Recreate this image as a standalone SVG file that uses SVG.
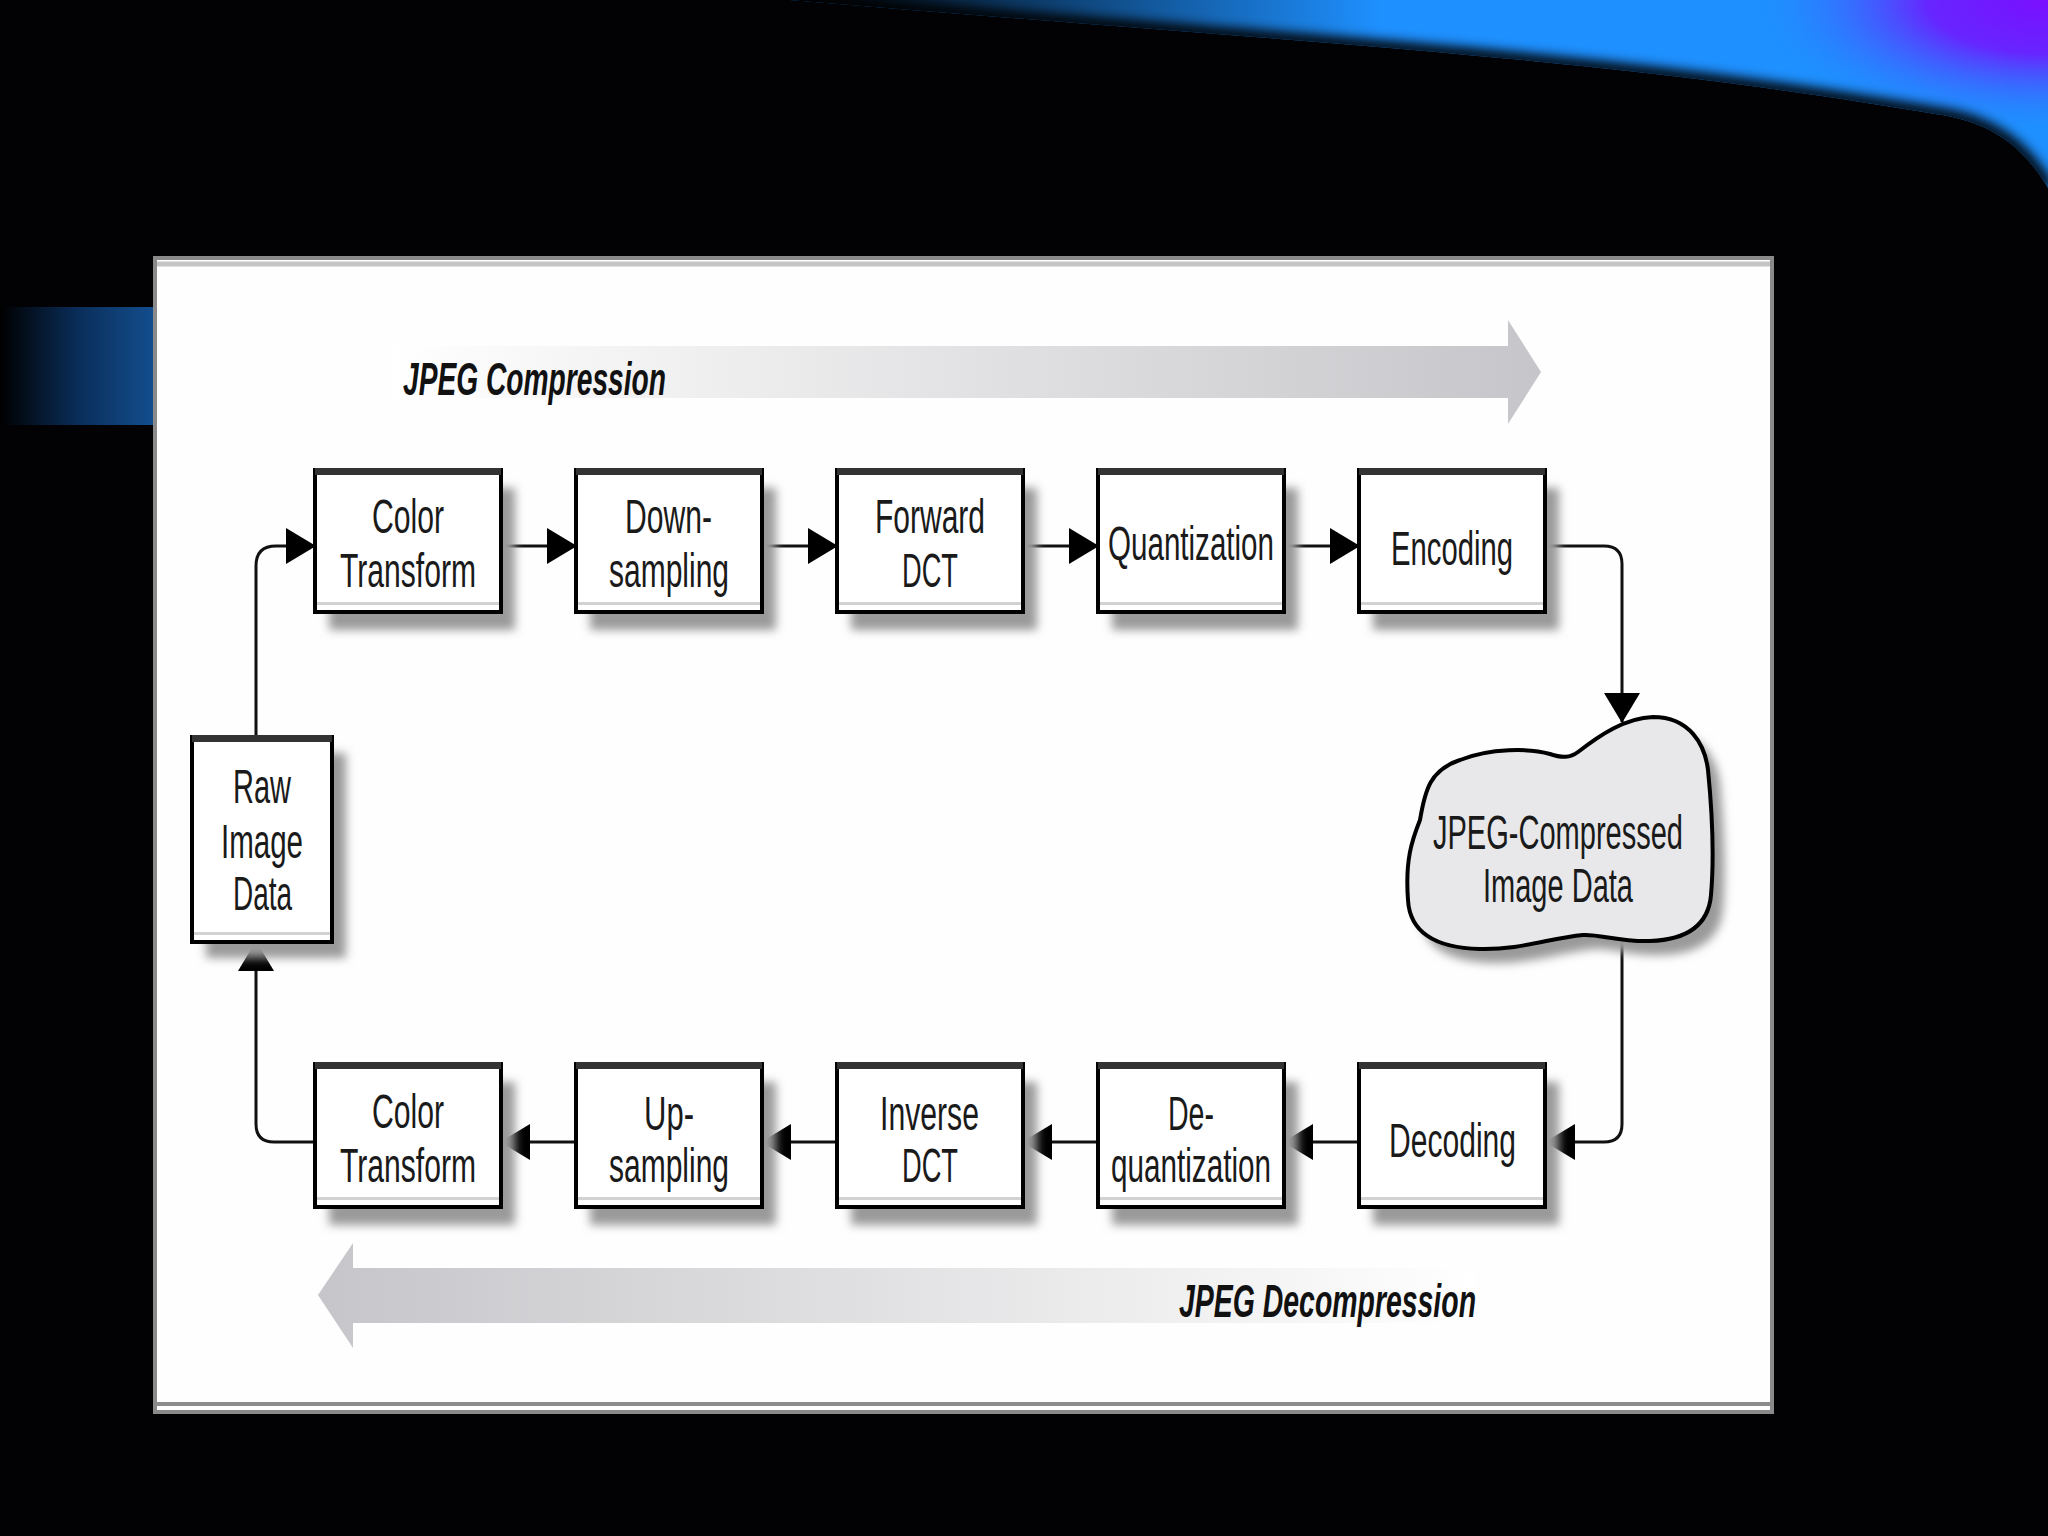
<svg xmlns="http://www.w3.org/2000/svg" width="2048" height="1536" viewBox="0 0 2048 1536">
<style>
.box{fill:#ffffff;stroke:#000;stroke-width:4}
.band{fill:#333}
.inner{fill:#d2d2d2}
.sh{fill:#9a9a9a;filter:url(#blur)}
.lbl{font-family:"Liberation Sans Narrow","Liberation Sans",Arial,sans-serif;font-size:49px;fill:#1a1a1a}
.ttl{font-family:"Liberation Sans Narrow","Liberation Sans",Arial,sans-serif;font-size:46px;font-weight:bold;font-style:italic;fill:#111}
.con{fill:none;stroke:#111;stroke-width:3;marker-end:url(#ah)}
</style>
<defs>
<filter id="blur" x="-20%" y="-20%" width="140%" height="140%"><feGaussianBlur stdDeviation="5"/></filter>
<filter id="blur2" x="-20%" y="-50%" width="140%" height="200%"><feGaussianBlur stdDeviation="6"/></filter>
<marker id="ah" markerUnits="userSpaceOnUse" markerWidth="30" markerHeight="36" viewBox="0 0 30 36" refX="29" refY="18" orient="auto">
<path d="M0,0 L30,18 L0,36 Z" fill="#000"/>
</marker>
<linearGradient id="barG" x1="0" y1="0" x2="1" y2="0">
<stop offset="0" stop-color="#000"/>
<stop offset="0.5" stop-color="#0a2d58"/>
<stop offset="1" stop-color="#134e8e"/>
</linearGradient>
<linearGradient id="compG" gradientUnits="userSpaceOnUse" x1="392" y1="0" x2="1541" y2="0">
<stop offset="0" stop-color="#ffffff"/>
<stop offset="0.15" stop-color="#f6f6f6"/>
<stop offset="0.5" stop-color="#e2e2e4"/>
<stop offset="1" stop-color="#c6c6ca"/>
</linearGradient>
<linearGradient id="decG" gradientUnits="userSpaceOnUse" x1="318" y1="0" x2="1476" y2="0">
<stop offset="0" stop-color="#c6c6ca"/>
<stop offset="0.5" stop-color="#e2e2e4"/>
<stop offset="0.85" stop-color="#f6f6f6"/>
<stop offset="1" stop-color="#ffffff"/>
</linearGradient>
<radialGradient id="purpG" gradientUnits="userSpaceOnUse" cx="2048" cy="0" r="300" gradientTransform="translate(2048 0) scale(1 0.45) translate(-2048 0)">
<stop offset="0" stop-color="#7a0fff" stop-opacity="1"/>
<stop offset="0.4" stop-color="#7412ff" stop-opacity="0.85"/>
<stop offset="1" stop-color="#1e90ff" stop-opacity="0"/>
</radialGradient>
<linearGradient id="darkG" gradientUnits="userSpaceOnUse" x1="790" y1="0" x2="1380" y2="0">
<stop offset="0" stop-color="#000" stop-opacity="1"/>
<stop offset="1" stop-color="#000" stop-opacity="0"/>
</linearGradient>
<clipPath id="swClip">
<path d="M790,0 L2048,0 L2048,188 C2025,150 1995,122 1935,114 C1850,100 1750,84 1600,68 C1400,46 1100,26 790,0 Z"/>
</clipPath>
</defs>

<rect x="0" y="0" width="2048" height="1536" fill="#020204"/>

<g id="swoosh" clip-path="url(#swClip)">
<rect x="780" y="0" width="1268" height="195" fill="#1e90ff"/>
<rect x="1600" y="0" width="448" height="195" fill="url(#purpG)"/>
<rect x="780" y="0" width="700" height="80" fill="url(#darkG)"/>
<path d="M2048,188 C2025,150 1995,122 1935,114 C1850,100 1750,84 1600,68 C1400,46 1100,26 790,0" fill="none" stroke="#000" stroke-width="14" filter="url(#blur2)"/>
</g>

<rect id="left-bar" x="0" y="307" width="154" height="118" fill="url(#barG)"/>

<g id="panel">
<rect x="155" y="258" width="1617" height="1154" fill="#fefefe" stroke="#8a8a8a" stroke-width="4"/>
<line x1="157" y1="264" x2="1770" y2="264" stroke="#c4c4c4" stroke-width="5"/>
<line x1="157" y1="1404" x2="1770" y2="1404" stroke="#8c8c8c" stroke-width="4"/>
</g>

<g id="compression-arrow">
<path d="M392,346 L1508,346 L1508,320 L1541,372 L1508,424 L1508,398 L392,398 Z" fill="url(#compG)"/>
<text class="ttl" x="403" y="395" textLength="263" lengthAdjust="spacingAndGlyphs">JPEG Compression</text>
</g>

<g id="decompression-arrow">
<path d="M1476,1268 L353,1268 L353,1243 L318,1295 L353,1348 L353,1323 L1476,1323 Z" fill="url(#decG)"/>
<text class="ttl" x="1179" y="1317" textLength="297" lengthAdjust="spacingAndGlyphs">JPEG Decompression</text>
</g>

<g id="connectors">
<path class="con" d="M256,737 L256,566 Q256,546 276,546 L315,546"/>
<path class="con" d="M501,546 L576,546"/>
<path class="con" d="M762,546 L837,546"/>
<path class="con" d="M1023,546 L1098,546"/>
<path class="con" d="M1284,546 L1359,546"/>
<path class="con" d="M1545,546 L1604,546 Q1622,546 1622,564 L1622,722"/>
<path class="con" d="M1622,940 L1622,1124 Q1622,1142 1604,1142 L1546,1142"/>
<path class="con" d="M1359,1142 L1284,1142"/>
<path class="con" d="M1098,1142 L1023,1142"/>
<path class="con" d="M837,1142 L762,1142"/>
<path class="con" d="M576,1142 L501,1142"/>
<path class="con" d="M315,1142 L274,1142 Q256,1142 256,1124 L256,942"/>
</g>

<g id="raw-image-data">
<rect class="sh" x="206" y="753" width="140" height="205"/>
<rect class="box" x="192" y="737" width="140" height="205"/>
<rect class="band" x="192" y="735" width="140" height="7"/>
<rect class="inner" x="194" y="932" width="136" height="3"/>
<text class="lbl" x="233" y="803" textLength="58" lengthAdjust="spacingAndGlyphs">Raw</text>
<text class="lbl" x="221" y="858" textLength="82" lengthAdjust="spacingAndGlyphs">Image</text>
<text class="lbl" x="233" y="910" textLength="59" lengthAdjust="spacingAndGlyphs">Data</text>
</g>

<g id="color-transform-1">
<rect class="sh" x="329" y="488" width="186" height="142"/>
<rect class="box" x="315" y="470" width="186" height="142"/>
<rect class="band" x="315" y="468" width="186" height="7"/>
<rect class="inner" x="317" y="602" width="182" height="3"/>
<text class="lbl" x="372" y="533" textLength="72" lengthAdjust="spacingAndGlyphs">Color</text>
<text class="lbl" x="340" y="587" textLength="136" lengthAdjust="spacingAndGlyphs">Transform</text>
</g>

<g id="down-sampling">
<rect class="sh" x="590" y="488" width="186" height="142"/>
<rect class="box" x="576" y="470" width="186" height="142"/>
<rect class="band" x="576" y="468" width="186" height="7"/>
<rect class="inner" x="578" y="602" width="182" height="3"/>
<text class="lbl" x="625" y="533" textLength="87" lengthAdjust="spacingAndGlyphs">Down-</text>
<text class="lbl" x="609" y="587" textLength="120" lengthAdjust="spacingAndGlyphs">sampling</text>
</g>

<g id="forward-dct">
<rect class="sh" x="851" y="488" width="186" height="142"/>
<rect class="box" x="837" y="470" width="186" height="142"/>
<rect class="band" x="837" y="468" width="186" height="7"/>
<rect class="inner" x="839" y="602" width="182" height="3"/>
<text class="lbl" x="875" y="533" textLength="110" lengthAdjust="spacingAndGlyphs">Forward</text>
<text class="lbl" x="902" y="587" textLength="56" lengthAdjust="spacingAndGlyphs">DCT</text>
</g>

<g id="quantization">
<rect class="sh" x="1112" y="488" width="186" height="142"/>
<rect class="box" x="1098" y="470" width="186" height="142"/>
<rect class="band" x="1098" y="468" width="186" height="7"/>
<rect class="inner" x="1100" y="602" width="182" height="3"/>
<text class="lbl" x="1108" y="560" textLength="166" lengthAdjust="spacingAndGlyphs">Quantization</text>
</g>

<g id="encoding">
<rect class="sh" x="1373" y="488" width="186" height="142"/>
<rect class="box" x="1359" y="470" width="186" height="142"/>
<rect class="band" x="1359" y="468" width="186" height="7"/>
<rect class="inner" x="1361" y="602" width="182" height="3"/>
<text class="lbl" x="1391" y="565" textLength="122" lengthAdjust="spacingAndGlyphs">Encoding</text>
</g>

<g id="jpeg-compressed-image-data">
<path transform="translate(12 14)" fill="#9a9a9a" filter="url(#blur)" d="M1653,717 C1690,717 1705,745 1708,770 C1712,810 1714,860 1711,895 C1708,930 1680,940 1650,941 C1620,942 1600,934 1583,935 C1550,938 1520,950 1480,949 C1440,948 1410,935 1408,900 C1405,860 1412,840 1420,820 C1425,790 1430,770 1460,760 C1490,748 1530,748 1550,754 C1562,758 1570,758 1578,752 C1600,735 1625,718 1653,717 Z"/>
<path fill="#e8e8ea" stroke="#000" stroke-width="4" d="M1653,717 C1690,717 1705,745 1708,770 C1712,810 1714,860 1711,895 C1708,930 1680,940 1650,941 C1620,942 1600,934 1583,935 C1550,938 1520,950 1480,949 C1440,948 1410,935 1408,900 C1405,860 1412,840 1420,820 C1425,790 1430,770 1460,760 C1490,748 1530,748 1550,754 C1562,758 1570,758 1578,752 C1600,735 1625,718 1653,717 Z"/>
<text class="lbl" x="1433" y="849" textLength="250" lengthAdjust="spacingAndGlyphs">JPEG-Compressed</text>
<text class="lbl" x="1483" y="902" textLength="150" lengthAdjust="spacingAndGlyphs">Image Data</text>
</g>

<g id="decoding">
<rect class="sh" x="1373" y="1082" width="186" height="143"/>
<rect class="box" x="1359" y="1064" width="186" height="143"/>
<rect class="band" x="1359" y="1062" width="186" height="7"/>
<rect class="inner" x="1361" y="1197" width="182" height="3"/>
<text class="lbl" x="1389" y="1157" textLength="127" lengthAdjust="spacingAndGlyphs">Decoding</text>
</g>

<g id="de-quantization">
<rect class="sh" x="1112" y="1082" width="186" height="143"/>
<rect class="box" x="1098" y="1064" width="186" height="143"/>
<rect class="band" x="1098" y="1062" width="186" height="7"/>
<rect class="inner" x="1100" y="1197" width="182" height="3"/>
<text class="lbl" x="1168" y="1130" textLength="46" lengthAdjust="spacingAndGlyphs">De-</text>
<text class="lbl" x="1111" y="1182" textLength="160" lengthAdjust="spacingAndGlyphs">quantization</text>
</g>

<g id="inverse-dct">
<rect class="sh" x="851" y="1082" width="186" height="143"/>
<rect class="box" x="837" y="1064" width="186" height="143"/>
<rect class="band" x="837" y="1062" width="186" height="7"/>
<rect class="inner" x="839" y="1197" width="182" height="3"/>
<text class="lbl" x="880" y="1130" textLength="99" lengthAdjust="spacingAndGlyphs">Inverse</text>
<text class="lbl" x="902" y="1182" textLength="56" lengthAdjust="spacingAndGlyphs">DCT</text>
</g>

<g id="up-sampling">
<rect class="sh" x="590" y="1082" width="186" height="143"/>
<rect class="box" x="576" y="1064" width="186" height="143"/>
<rect class="band" x="576" y="1062" width="186" height="7"/>
<rect class="inner" x="578" y="1197" width="182" height="3"/>
<text class="lbl" x="644" y="1130" textLength="50" lengthAdjust="spacingAndGlyphs">Up-</text>
<text class="lbl" x="609" y="1182" textLength="120" lengthAdjust="spacingAndGlyphs">sampling</text>
</g>

<g id="color-transform-2">
<rect class="sh" x="329" y="1082" width="186" height="143"/>
<rect class="box" x="315" y="1064" width="186" height="143"/>
<rect class="band" x="315" y="1062" width="186" height="7"/>
<rect class="inner" x="317" y="1197" width="182" height="3"/>
<text class="lbl" x="372" y="1128" textLength="72" lengthAdjust="spacingAndGlyphs">Color</text>
<text class="lbl" x="340" y="1182" textLength="136" lengthAdjust="spacingAndGlyphs">Transform</text>
</g>
</svg>
